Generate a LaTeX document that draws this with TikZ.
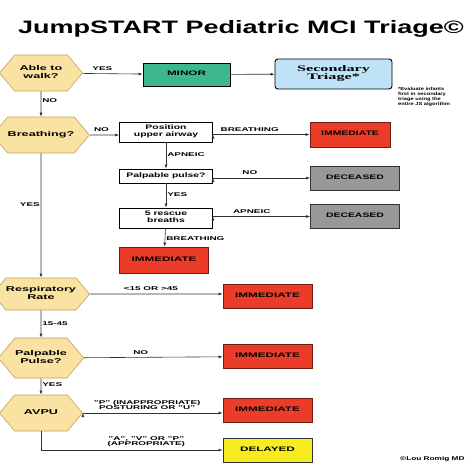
\documentclass[tikz,border=0pt]{standalone}
\usepackage{fontspec}
\setmainfont{Liberation Sans}
\newfontfamily\serifbox{Liberation Serif}
\usetikzlibrary{shapes.symbols,arrows.meta}
\definecolor{hex_fil}{RGB}{250, 226, 162}
\definecolor{hex_out}{RGB}{196, 160, 96}
\definecolor{minor_fil}{RGB}{62, 182, 142}
\definecolor{sec_fil}{RGB}{190, 226, 246}
\definecolor{imm_fil}{RGB}{234, 60, 40}
\definecolor{imm_out}{RGB}{110, 30, 20}
\definecolor{dec_fil}{RGB}{152, 152, 152}
\definecolor{del_fil}{RGB}{246, 236, 32}
\newcommand\hexw{83pt}
\newcommand\hexh{36pt}
\newcommand\tagw{89pt}
\newcommand\tagh{24pt}
\newcommand\actw{93pt}
% stretched text, as in the chart
\newcommand\wtxt[2][1.8]{\scalebox{#1}[1]{\begin{tabular}{@{}c@{}}#2\end{tabular}}}
\tikzset{triage_hex/.style = {signal, signal to=east and west, signal pointer angle=100, minimum width=\hexw, minimum height=\hexh, inner sep=0pt, draw=hex_out, fill=hex_fil, line width=0.6pt, font=\bfseries\fontsize{7}{7.5}\selectfont}}
\tikzset{action_box/.style = {rectangle, inner sep=1pt, minimum width=\actw, draw, fill=white, line width=0.9pt, font=\bfseries\fontsize{6.5}{7}\selectfont}}
\tikzset{tag_box/.style = {rectangle, inner sep=0pt, minimum width=\tagw, minimum height=\tagh, draw, line width=0.9pt, font=\bfseries\fontsize{6.5}{7}\selectfont}}
\tikzset{imm_box/.style = {tag_box, draw=imm_out, fill=imm_fil}}
\tikzset{dec_box/.style = {tag_box, draw=black!80, fill=dec_fil}}
\tikzset{flowpath/.style = {line width=0.6pt, draw=black!80, -{Latex[length=4pt,width=3pt]}}}
\tikzset{flowtag/.style = {inner sep=1pt, font=\bfseries\fontsize{5.5}{5.8}\selectfont}}

\begin{document}
\begin{tikzpicture}[x=1pt,y=-1pt]
\useasboundingbox (0,0) rectangle (474,474);
\node[anchor=base west, inner sep=0] (title) at (18,33) {\scalebox{1.5}[1]{\fontsize{18}{20}\selectfont\bfseries JumpSTART Pediatric MCI Triage©}};

% left column
\node[triage_hex] (walk) at (41,73) {\wtxt{Able to\\walk?}};
\node[triage_hex] (breath) at (41,135) {\wtxt{Breathing?}};
\node[triage_hex, minimum height=32pt] (resp) at (41,294) {\wtxt{Respiratory\\Rate}};
\node[triage_hex, minimum height=40pt] (pulse) at (41,358) {\wtxt{Palpable\\Pulse?}};
\node[triage_hex] (avpu) at (41,413) {\wtxt{AVPU}};

% airway steps
\node[action_box, minimum height=20pt] (airway) at (166,132) {\wtxt[1.6]{Position\\upper airway}};
\node[action_box, minimum height=14pt] (palp) at (166,176) {\wtxt[1.6]{Palpable pulse?}};
\node[action_box, minimum height=20pt] (rescue) at (166,218) {\wtxt[1.6]{5 rescue\\breaths}};

% outcomes
\node[tag_box, fill=minor_fil, minimum width=87pt, minimum height=23pt] (minor) at (186.5,74.5) {\wtxt{MINOR}};
\node[tag_box, rounded corners=3pt, fill=sec_fil, minimum width=117pt, minimum height=30pt, font=\serifbox\bfseries\fontsize{8.5}{8.5}\selectfont] (second) at (333.5,74) {\wtxt[1.9]{Secondary\\Triage*}};
\node[imm_box, minimum width=80pt, minimum height=25pt] (imm1) at (350,134.5) {\wtxt[1.6]{IMMEDIATE}};
\node[dec_box] (dec1) at (355,178) {\wtxt[1.6]{DECEASED}};
\node[dec_box] (dec2) at (355,216.5) {\wtxt[1.6]{DECEASED}};
\node[imm_box, minimum height=26pt] (imm2) at (164,260) {\wtxt{IMMEDIATE}};
\foreach \n/\y in {3/296.5,4/356.5,5/410.5}{
	\node[imm_box] (imm\n) at (267.5,\y) {\wtxt{IMMEDIATE}};
	}
\node[tag_box, draw=black!80, fill=del_fil] (delayed) at (267.5,450) {\wtxt{DELAYED}};

\node[anchor=north west, inner sep=0, font=\bfseries\fontsize{4.4}{4.9}\selectfont] (note) at (398,87) {\scalebox{1.3}[1]{\begin{tabular}{@{}l@{}}*Evaluate infants\\first in secondary\\triage using the\\entire JS algorithm\end{tabular}}};
\node[anchor=west, inner sep=0, font=\bfseries\fontsize{5.5}{6}\selectfont] (copy) at (400,459) {\scalebox{1.5}[1]{©Lou Romig MD}};

% connectors
\path[flowpath] (walk) edge node[flowtag, above, pos=0.33] {\wtxt{YES}} (minor);
\path[flowpath] (minor) edge (second);
\path[flowpath] (walk) edge node[flowtag, right, pos=0.4] {\wtxt{NO}} (breath);
\path[flowpath] (breath) edge node[flowtag, above, pos=0.4] {\wtxt{NO}} (airway.west |- breath);
\path[flowpath] (airway.east |- imm1) edge node[flowtag, above, pos=0.38] {\wtxt{BREATHING}} (imm1);
\path[flowpath] (airway) edge node[flowtag, right, pos=0.5] {\wtxt{APNEIC}} (palp);
\path[flowpath] (palp.east |- dec1) edge node[flowtag, above, pos=0.38] {\wtxt{NO}} (dec1);
\path[flowpath] (palp) edge node[flowtag, right, pos=0.5] {\wtxt{YES}} (rescue);
\path[flowpath] (rescue.east |- dec2) edge node[flowtag, above, pos=0.4] {\wtxt{APNEIC}} (dec2);
\path[flowpath] (rescue) edge node[flowtag, right, pos=0.6] {\wtxt{BREATHING}} (imm2);
\path[flowpath] (breath) edge node[flowtag, left, pos=0.42] {\wtxt{YES}} (resp);
\path[flowpath] (resp) edge node[flowtag, above, pos=0.46] {\wtxt{<15 OR >45}} (imm3.west |- resp);
\path[flowpath] (resp) edge node[flowtag, right, pos=0.5] {\wtxt{15-45}} (pulse);
\path[flowpath] (pulse) edge node[flowtag, above, pos=0.41] {\wtxt{NO}} (imm4);
\path[flowpath] (pulse) edge node[flowtag, right, pos=0.4] {\wtxt{YES}} (avpu);
\path[flowpath] (avpu.east) edge node[flowtag, above, pos=0.46] {\wtxt{"P" (INAPPROPRIATE)\\POSTURING OR "U"}} (imm5.west |- avpu.east);
\path[flowpath] (avpu.south) |- node[flowtag, pos=0.79, above=1pt] {\wtxt{"A", "V" OR "P"\\(APPROPRIATE)}} (delayed.west);
\end{tikzpicture}
\end{document}
